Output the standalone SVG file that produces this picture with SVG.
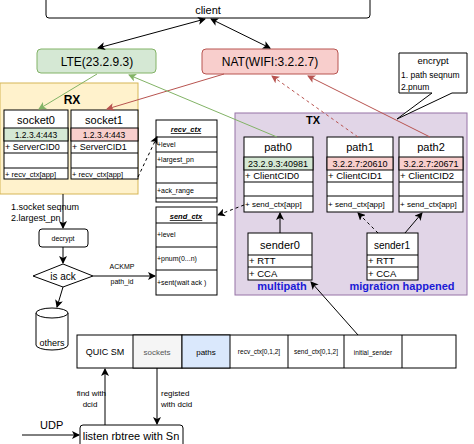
<svg xmlns="http://www.w3.org/2000/svg" width="474" height="444" viewBox="0 0 474 444">
<defs>
<marker id="ab" markerWidth="8" markerHeight="8" refX="7" refY="4" orient="auto-start-reverse" markerUnits="userSpaceOnUse"><path d="M0,0 L8,4 L0,8 L2,4 Z" fill="#000"/></marker>
<marker id="ag" markerWidth="8" markerHeight="8" refX="7" refY="4" orient="auto" markerUnits="userSpaceOnUse"><path d="M0,0 L8,4 L0,8 L2,4 Z" fill="#82b366"/></marker>
<marker id="ar" markerWidth="8" markerHeight="8" refX="7" refY="4" orient="auto" markerUnits="userSpaceOnUse"><path d="M0,0 L8,4 L0,8 L2,4 Z" fill="#b85450"/></marker>
</defs>
<style>
text{font-family:"Liberation Sans",Arial,sans-serif;fill:#000}
.box{fill:#fff;stroke:#000;stroke-width:1}
.c{text-anchor:middle}
.ln{stroke:#000;stroke-width:1;fill:none}
.dash{stroke-dasharray:3,3}
.blue{fill:#1a1ad6;font-weight:bold;font-size:11px;text-anchor:middle}
</style>
<rect width="474" height="444" fill="#fff"/>
<g id="rx-container"><rect x="0" y="83" width="138" height="111" fill="#fff2cc" stroke="#d6b656"/><text x="72" y="104" class="c" font-size="12" font-weight="bold">RX</text></g>
<g id="tx-container"><rect x="235" y="113" width="232" height="182" fill="#e1d5e7" stroke="#9673a6"/><text x="313" y="124" class="c" font-size="11" font-weight="bold">TX</text></g>
<g id="client"><rect x="46" y="-6" width="324" height="24" rx="3" class="box"/><text x="208" y="14" class="c" font-size="11">client</text></g>
<g id="lte"><rect x="37" y="49" width="119" height="24" rx="4" fill="#d5e8d4" stroke="#82b366"/><text x="97" y="66" class="c" font-size="12">LTE(23.2.9.3)</text></g>
<g id="nat"><rect x="202" y="49" width="136" height="25" rx="4" fill="#f8cecc" stroke="#b85450"/><text x="270" y="66" class="c" font-size="12">NAT(WIFI:3.2.2.7)</text></g>
<g id="encrypt"><path d="M432,93 L399,93 L399,53 L467,53 L467,93 L452,93 L397,119 L432,93 Z" fill="#fff" stroke="#000"/><text x="433" y="64" class="c" font-size="9.5">encrypt</text><text x="401" y="78" font-size="8.5">1. path seqnum</text><text x="401" y="90" font-size="8.5">2.pnum</text></g>
<g id="socket0"><rect x="4" y="110" width="64" height="69" class="box"/><text x="36" y="124" class="c" font-size="11">socket0</text><rect x="4" y="128" width="64" height="13" fill="#d5e8d4" stroke="#000"/><text x="36" y="138" class="c" font-size="8.5">1.2.3.4:443</text><line x1="4" y1="153" x2="68" y2="153" class="ln"/><text x="5" y="150" font-size="9">+ ServerCID0</text><line x1="4" y1="168" x2="68" y2="168" class="ln"/><text x="5" y="177" font-size="7.5">+ recv_ctx[app]</text></g>
<g id="socket1"><rect x="71" y="110" width="67" height="69" class="box"/><text x="104" y="124" class="c" font-size="11">socket1</text><rect x="71" y="128" width="67" height="13" fill="#f8cecc" stroke="#000"/><text x="104" y="138" class="c" font-size="8.5">1.2.3.4:443</text><line x1="71" y1="153" x2="138" y2="153" class="ln"/><text x="72" y="150" font-size="9">+ ServerCID1</text><line x1="71" y1="168" x2="138" y2="168" class="ln"/><text x="72" y="177" font-size="7.5">+ recv_ctx[app]</text></g>
<g id="recv_ctx"><rect x="156" y="120" width="61" height="82" class="box"/><text x="186" y="132" class="c" font-size="7.5" font-weight="bold" font-style="italic" text-decoration="underline">recv_ctx</text><line x1="156" y1="137" x2="217" y2="137" class="ln"/><text x="157" y="147" font-size="7">+level</text><line x1="156" y1="152" x2="217" y2="152" class="ln"/><text x="157" y="162" font-size="7">+largest_pn</text><line x1="156" y1="167" x2="217" y2="167" class="ln"/><line x1="156" y1="183" x2="217" y2="183" class="ln"/><text x="157" y="193" font-size="7">+ack_range</text><line x1="156" y1="198" x2="217" y2="198" class="ln"/></g>
<g id="send_ctx"><rect x="156" y="207" width="61" height="88" class="box"/><text x="186" y="219" class="c" font-size="7.5" font-weight="bold" font-style="italic" text-decoration="underline">send_ctx</text><line x1="156" y1="223" x2="217" y2="223" class="ln"/><text x="157" y="237" font-size="7">+level</text><line x1="156" y1="247" x2="217" y2="247" class="ln"/><text x="157" y="261" font-size="7">+pnum(0...n)</text><line x1="156" y1="270" x2="217" y2="270" class="ln"/><text x="157" y="285" font-size="7">+sent(wait ack )</text></g>
<g id="path0"><rect x="244" y="137" width="69" height="75" class="box"/><text x="278" y="151" class="c" font-size="11">path0</text><rect x="244" y="157" width="69" height="13" fill="#d5e8d4" stroke="#000"/><text x="278" y="167" class="c" font-size="9">23.2.9.3:40981</text><line x1="244" y1="182" x2="313" y2="182" class="ln"/><text x="245" y="179" font-size="9.5">+ ClientCID0</text><line x1="244" y1="196" x2="313" y2="196" class="ln"/><text x="245" y="207" font-size="8">+ send_ctx[app]</text></g>
<g id="path1"><rect x="327" y="137" width="66" height="75" class="box"/><text x="360" y="151" class="c" font-size="11">path1</text><rect x="327" y="157" width="66" height="13" fill="#f8cecc" stroke="#000"/><text x="360" y="167" class="c" font-size="9">3.2.2.7:20610</text><line x1="327" y1="182" x2="393" y2="182" class="ln"/><text x="328" y="179" font-size="9.5">+ ClientCID1</text><line x1="327" y1="196" x2="393" y2="196" class="ln"/><text x="328" y="207" font-size="8">+ send_ctx[app]</text></g>
<g id="path2"><rect x="399" y="137" width="64" height="75" class="box"/><text x="431" y="151" class="c" font-size="11">path2</text><rect x="399" y="157" width="64" height="13" fill="#f8cecc" stroke="#000"/><text x="431" y="167" class="c" font-size="9">3.2.2.7:20671</text><line x1="399" y1="182" x2="463" y2="182" class="ln"/><text x="400" y="179" font-size="9.5">+ ClientCID2</text><line x1="399" y1="196" x2="463" y2="196" class="ln"/><text x="400" y="207" font-size="8">+ send_ctx[app]</text></g>
<g id="sender0"><rect x="248" y="233" width="64" height="47" class="box"/><text x="280" y="249" class="c" font-size="11">sender0</text><line x1="248" y1="255" x2="312" y2="255" class="ln"/><text x="249" y="264" font-size="9.5">+ RTT</text><line x1="248" y1="267" x2="312" y2="267" class="ln"/><text x="249" y="277" font-size="9.5">+ CCA</text></g>
<g id="sender1"><rect x="367" y="233" width="51" height="47" class="box"/><text x="392" y="249" class="c" font-size="10">sender1</text><line x1="367" y1="255" x2="418" y2="255" class="ln"/><text x="368" y="264" font-size="9.5">+ RTT</text><line x1="367" y1="267" x2="418" y2="267" class="ln"/><text x="368" y="277" font-size="9.5">+ CCA</text></g>
<g id="labels"><text x="282" y="290" class="blue">multipath</text><text x="402" y="290" class="blue">migration happened</text><text x="11" y="210" font-size="9">1.socket seqnum</text><text x="11" y="221" font-size="9">2.largest_pn</text><text x="122" y="269" class="c" font-size="7">ACKMP</text><text x="122" y="284" class="c" font-size="7">path_id</text><text x="106" y="396" font-size="8" text-anchor="end">find with</text><text x="90" y="407" class="c" font-size="8">dcid</text><text x="161" y="396" font-size="8">registed</text><text x="161" y="407" font-size="8">with dcid</text><text x="40" y="429" font-size="11">UDP</text></g>
<g id="decrypt"><rect x="39" y="229" width="49" height="18" rx="3" class="box"/><text x="63" y="241" class="c" font-size="7">decrypt</text></g>
<g id="isack"><path d="M63,264 L93,276 L63,287 L33,276 Z" class="box"/><text x="63" y="280" class="c" font-size="10">is ack</text></g>
<g id="others"><path d="M36,313 L36,345 A16,5 0 0 0 68,345 L68,313" class="box"/><ellipse cx="52" cy="313" rx="16" ry="5" class="box"/><text x="52" y="346" class="c" font-size="9">others</text></g>
<g id="quic-sm"><rect x="77" y="335" width="379" height="33" class="box"/><rect x="133" y="335" width="49" height="33" fill="#f5f5f5" stroke="#000"/><rect x="182" y="335" width="48" height="33" fill="#dae8fc" stroke="#000"/><line x1="288" y1="335" x2="288" y2="368" class="ln"/><line x1="344" y1="335" x2="344" y2="368" class="ln"/><line x1="402" y1="335" x2="402" y2="368" class="ln"/><text x="105" y="355" class="c" font-size="9">QUIC SM</text><text x="157" y="355" class="c" font-size="8" style="fill:#555">sockets</text><text x="206" y="355" class="c" font-size="8">paths</text><text x="259" y="354" class="c" font-size="6.5">recv_ctx[0,1,2]</text><text x="316" y="354" class="c" font-size="6.5">send_ctx[0,1,2]</text><text x="373" y="355" class="c" font-size="6.5">initial_sender</text></g>
<g id="listen"><rect x="80" y="425" width="103" height="22" rx="3" class="box"/><text x="131" y="440" class="c" font-size="11">listen rbtree with Sn</text></g>
<g id="connectors">
<line x1="205" y1="19" x2="98" y2="48" class="ln" marker-start="url(#ab)" marker-end="url(#ab)"/>
<line x1="211" y1="19" x2="270" y2="48" class="ln" marker-start="url(#ab)" marker-end="url(#ab)"/>
<line x1="97" y1="74" x2="39" y2="109" stroke="#82b366" marker-end="url(#ag)"/>
<line x1="224" y1="74" x2="107" y2="109" stroke="#b85450" marker-end="url(#ar)"/>
<line x1="277" y1="137" x2="129" y2="75" stroke="#82b366" marker-end="url(#ag)"/>
<line x1="358" y1="137" x2="272" y2="76" stroke="#b85450" stroke-dasharray="3,3" marker-end="url(#ar)"/>
<line x1="430" y1="137" x2="308" y2="76" stroke="#b85450" marker-end="url(#ar)"/>
<line x1="138" y1="177" x2="157" y2="137" class="ln dash" marker-end="url(#ab)"/>
<line x1="244" y1="205" x2="218" y2="215" class="ln dash" marker-end="url(#ab)"/>
<line x1="280" y1="233" x2="280" y2="213" class="ln" marker-end="url(#ab)"/>
<line x1="378" y1="233" x2="358" y2="213" class="ln dash" marker-end="url(#ab)"/>
<line x1="405" y1="233" x2="422" y2="213" class="ln" marker-end="url(#ab)"/>
<line x1="358" y1="335" x2="311" y2="282" class="ln" marker-end="url(#ab)"/>
<line x1="63" y1="194" x2="63" y2="228" class="ln" marker-end="url(#ab)"/>
<line x1="63" y1="247" x2="63" y2="263" class="ln" marker-end="url(#ab)"/>
<line x1="93" y1="276" x2="155" y2="276" class="ln" marker-end="url(#ab)"/>
<line x1="63" y1="287" x2="57" y2="307" class="ln" marker-end="url(#ab)"/>
<line x1="105" y1="425" x2="105" y2="369" class="ln" marker-end="url(#ab)"/>
<line x1="157" y1="368" x2="157" y2="424" class="ln" marker-end="url(#ab)"/>
<line x1="22" y1="435" x2="79" y2="435" class="ln" marker-end="url(#ab)"/>
</g>
</svg>
